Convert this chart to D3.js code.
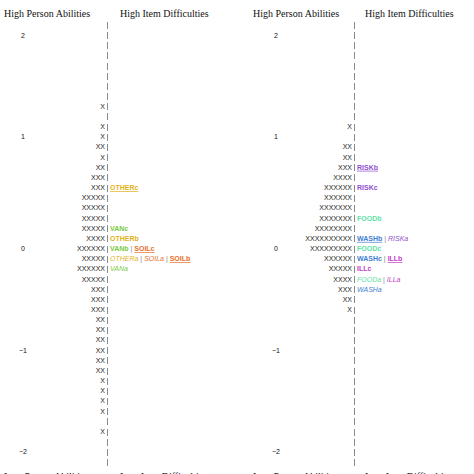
<!DOCTYPE html>
<meta charset="utf-8">
<head>
    <style>
        body { margin: 0; background: #fff; }
        .hdr { font-family: "Liberation Serif", serif; font-size: 10px; fill: #111; }
        .tick { font-family: "Liberation Sans", Arial, sans-serif; font-size: 7px; fill: #111; }
        .xs { font-family: "Liberation Sans", Arial, sans-serif; font-size: 7px; fill: #222; }
        .item { font-family: "Liberation Sans", Arial, sans-serif; font-size: 7px; }
    </style>
    <script src="https://d3js.org/d3.v7.min.js"></script>
</head>
<body>
    <div id="my_dataviz"></div>
    <script>
        // number of persons (X) on each row, top row first
        var personsLeft = [0,0,0,0,0,0,0,0,1,0,1,1,2,1,2,3,3,5,5,5,5,4,6,5,6,5,3,3,3,2,2,2,2,2,2,1,1,1,1,0,1,0,0,0];
        var personsRight = [0,0,0,0,0,0,0,0,0,0,1,0,2,2,3,4,6,6,7,7,8,10,9,6,5,4,3,2,1,0,0,0,0,0,0,0,0,0,0,0,0,0,0,0];

        // items: [name, row]
        var itemsLeft = [["OTHERc",16],["VANc",20],["OTHERb",21],["VANb",22],["SOILc",22],
                         ["OTHERa",23],["SOILa",23],["SOILb",23],["VANa",24]];
        var itemsRight = [["RISKb",14],["RISKc",16],["FOODb",19],["WASHb",21],["RISKa",21],["FOODc",22],
                          ["WASHc",23],["ILLb",23],["ILLc",24],["FOODa",25],["ILLa",25],["WASHa",26]];
        var underlined = ["OTHERc","SOILc","SOILb","RISKb","WASHb","ILLb"];

        // logit tick labels and the row they sit on
        var tickLabels = ["2","1","0","\u22121","\u22122"];
        var tickRows = [1,11,22,32,42];

        var groups = ["OTHER","VAN","SOIL","RISK","FOOD","WASH","ILL"];
        var groupColors = ["#e2b21c","#7cc943","#e8702a","#9050d0","#5ee3a6","#3f7fd0","#c23cc8"];

        var width = 474, height = 474;
        var svg = d3.select("#my_dataviz").append("svg")
            .attr("width", width).attr("height", height);

        var y = d3.scaleLinear().domain([0, personsLeft.length - 1]).range([25, 462]);
        var color = d3.scaleOrdinal().domain(groups).range(groupColors);

        function drawPanel(persons, items, barX, tickX, hdrX) {
            var g = svg.append("g");

            g.append("text").attr("class", "hdr").attr("x", hdrX[0]).attr("y", 17).text("High Person Abilities");
            g.append("text").attr("class", "hdr").attr("x", hdrX[1]).attr("y", 17).text("High Item Difficulties");
            g.append("text").attr("class", "hdr").attr("x", hdrX[0]).attr("y", 480).text("Low Person Abilities");
            g.append("text").attr("class", "hdr").attr("x", hdrX[1]).attr("y", 480).text("Low Item Difficulties");

            // tick labels
            g.selectAll(".tick").data(tickRows).enter().append("text")
                .attr("class", "tick")
                .attr("x", tickX)
                .attr("y", d => y(d))
                .attr("dy", "0.35em")
                .attr("text-anchor", "middle")
                .text((d, i) => tickLabels[i]);

            // the dashed column, one dash per row
            g.selectAll(".bar").data(persons).enter().append("line")
                .attr("class", "bar")
                .attr("x1", barX + 0.5).attr("x2", barX + 0.5)
                .attr("y1", (d, i) => Math.round(y(i)) - 3)
                .attr("y2", (d, i) => Math.round(y(i)) + 4)
                .attr("stroke", "#8a8a8a")
                .attr("stroke-width", 1);

            // persons
            g.selectAll(".xs").data(persons).enter().append("text")
                .attr("class", "xs")
                .attr("x", barX - 2)
                .attr("y", (d, i) => y(i))
                .attr("dy", "0.35em")
                .attr("text-anchor", "end")
                .text(d => "X".repeat(d));

            // items per row
            var byRow = d3.groups(items, d => d[1]);
            byRow.forEach(function (r) {
                var t = g.append("text").attr("class", "item")
                    .attr("x", barX + 3)
                    .attr("y", y(r[0]))
                    .attr("dy", "0.35em");
                r[1].forEach(function (it, j) {
                    if (j > 0) t.append("tspan").attr("fill", "#888").text(" | ");
                    var name = it[0];
                    var grp = name.slice(0, -1);
                    var suffix = name.slice(-1);
                    t.append("tspan")
                        .attr("fill", color(grp))
                        .attr("font-weight", suffix === "a" ? "normal" : "bold")
                        .attr("font-style", suffix === "a" ? "italic" : "normal")
                        .attr("text-decoration", underlined.includes(name) ? "underline" : null)
                        .text(name);
                });
            });
        }

        drawPanel(personsLeft, itemsLeft, 107, 23, [4, 120]);
        drawPanel(personsRight, itemsRight, 354, 276, [253, 365]);
    </script>
</body>
